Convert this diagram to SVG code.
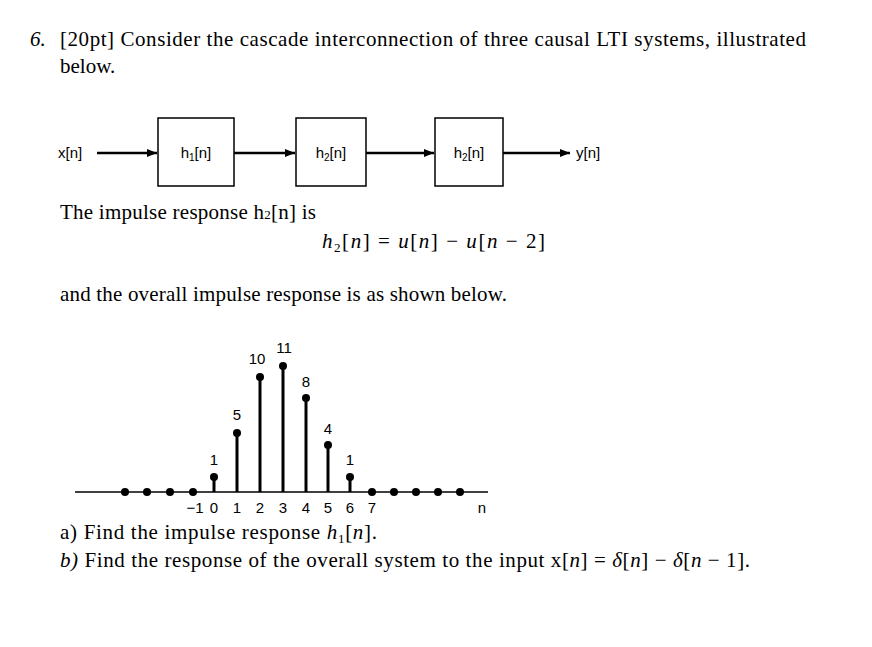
<svg xmlns="http://www.w3.org/2000/svg" width="872" height="647" viewBox="0 0 872 647">
<style>
.t{font-family:"Liberation Serif",serif;font-size:21px;fill:#000}
.s{font-family:"Liberation Sans",sans-serif;font-size:15px;fill:#000}
.p{font-family:"Liberation Sans",sans-serif;font-size:15px;fill:#000}
.box{fill:#fff;stroke:#000;stroke-width:1.5}
.ln{stroke:#000;stroke-width:2.5;fill:none}
.stem{stroke:#000;stroke-width:3}
</style>
<defs><marker id="ar" markerWidth="10" markerHeight="8" refX="10" refY="4" orient="auto" markerUnits="userSpaceOnUse"><path d="M0,0 L10,4 L0,8 Z" fill="#000"/></marker></defs>
<rect width="872" height="647" fill="#fff"/>
<text class="t" x="30" y="46"><tspan font-style="italic">6.</tspan></text>
<text class="t" x="60" y="46" textLength="746" lengthAdjust="spacing">[20pt] Consider the cascade interconnection of three causal LTI systems, illustrated</text>
<text class="t" x="60" y="73">below.</text>
<g id="connectors">
<line class="ln" x1="97" y1="153" x2="157" y2="153" marker-end="url(#ar)"/>
<line class="ln" x1="234" y1="153" x2="295" y2="153" marker-end="url(#ar)"/>
<line class="ln" x1="366" y1="153" x2="434" y2="153" marker-end="url(#ar)"/>
<line class="ln" x1="503" y1="153" x2="570" y2="153" marker-end="url(#ar)"/>
</g>
<g id="x"><text class="s" x="58" y="158">x[n]</text></g>
<g id="h1"><rect class="box" x="158" y="118" width="76" height="68"/><text class="s" x="196" y="158" text-anchor="middle">h<tspan font-size="10" dy="3">1</tspan><tspan dy="-3">[n]</tspan></text></g>
<g id="h2a"><rect class="box" x="296" y="118" width="70" height="68"/><text class="s" x="331" y="158" text-anchor="middle">h<tspan font-size="10" dy="3">2</tspan><tspan dy="-3">[n]</tspan></text></g>
<g id="h2b"><rect class="box" x="435" y="118" width="68" height="68"/><text class="s" x="469" y="158" text-anchor="middle">h<tspan font-size="10" dy="3">2</tspan><tspan dy="-3">[n]</tspan></text></g>
<g id="y"><text class="s" x="576" y="158">y[n]</text></g>
<text class="t" x="60" y="219" textLength="256" lengthAdjust="spacing">The impulse response h<tspan font-size="13">2</tspan>[n] is</text>
<text class="t" x="322" y="248" textLength="223" lengthAdjust="spacing"><tspan font-style="italic">h</tspan><tspan font-size="13" dy="4">2</tspan><tspan dy="-4">[</tspan><tspan font-style="italic">n</tspan>] = <tspan font-style="italic">u</tspan>[<tspan font-style="italic">n</tspan>] − <tspan font-style="italic">u</tspan>[<tspan font-style="italic">n</tspan> − 2]</text>
<text class="t" x="60" y="301" textLength="447" lengthAdjust="spacing">and the overall impulse response is as shown below.</text>
<g id="plot">
<line x1="75" y1="492" x2="488" y2="492" stroke="#000" stroke-width="1.5"/>
<g fill="#000">
<circle cx="125" cy="492" r="4"/><circle cx="147" cy="492" r="4"/><circle cx="170" cy="492" r="4"/><circle cx="193" cy="492" r="4"/>
<circle cx="372" cy="492" r="4"/><circle cx="394" cy="492" r="4"/><circle cx="416" cy="492" r="4"/><circle cx="438" cy="492" r="4"/><circle cx="460" cy="492" r="4"/>
</g>
<g class="stem">
<line x1="214" y1="492" x2="214" y2="477"/><line x1="237" y1="492" x2="237" y2="433"/><line x1="260" y1="492" x2="260" y2="377"/><line x1="283" y1="492" x2="283" y2="366"/><line x1="306" y1="492" x2="306" y2="398"/><line x1="328" y1="492" x2="328" y2="445"/><line x1="350" y1="492" x2="350" y2="477"/>
</g>
<g fill="#000">
<circle cx="214" cy="477" r="4"/><circle cx="237" cy="433" r="4"/><circle cx="260" cy="377" r="4"/><circle cx="283" cy="366" r="4"/><circle cx="306" cy="398" r="4"/><circle cx="328" cy="445" r="4"/><circle cx="350" cy="477" r="4"/>
</g>
<g class="p" text-anchor="middle">
<text x="214" y="465">1</text><text x="237" y="420">5</text><text x="257" y="364">10</text><text x="284" y="353">11</text><text x="306" y="387">8</text><text x="328" y="434">4</text><text x="350" y="465">1</text>
<text x="195" y="513">−1</text><text x="214" y="513">0</text><text x="237" y="513">1</text><text x="260" y="513">2</text><text x="283" y="513">3</text><text x="306" y="513">4</text><text x="328" y="513">5</text><text x="350" y="513">6</text><text x="372" y="513">7</text><text x="482" y="513">n</text>
</g>
</g>
<text class="t" x="60" y="539" textLength="317" lengthAdjust="spacing">a)  Find the impulse response <tspan font-style="italic">h</tspan><tspan font-size="13" dy="4">1</tspan><tspan dy="-4">[</tspan><tspan font-style="italic">n</tspan>].</text>
<text class="t" x="60" y="567" textLength="690" lengthAdjust="spacing"><tspan font-style="italic">b)</tspan>  Find the response of the overall system to the input x[<tspan font-style="italic">n</tspan>] = <tspan font-style="italic">δ</tspan>[<tspan font-style="italic">n</tspan>] − <tspan font-style="italic">δ</tspan>[<tspan font-style="italic">n</tspan> − 1].</text>
</svg>
